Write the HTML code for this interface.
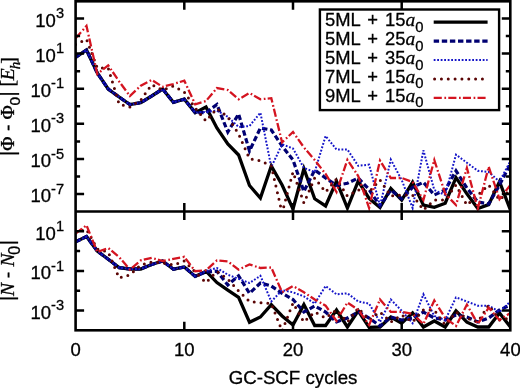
<!DOCTYPE html><html><head><meta charset="utf-8"><style>html,body{margin:0;padding:0;background:#fff;}svg{display:block;}text{font-family:"Liberation Sans",sans-serif;fill:#000;stroke:#000;stroke-width:0.3px;}.sr{font-family:"Liberation Serif",serif;}</style></head><body>
<svg width="520" height="388" viewBox="0 0 520 388">
<defs><clipPath id="c1"><rect x="75.6" y="1.3" width="434.7" height="210.2"/></clipPath><clipPath id="c2"><rect x="75.6" y="211.5" width="434.7" height="118.8"/></clipPath></defs>
<g clip-path="url(#c1)" fill="none" stroke-linejoin="miter">
<polyline points="75.6,57.3 86.5,50.0 97.3,73.0 108.2,89.0 119.1,97.0 129.9,104.6 140.8,102.6 151.7,96.0 162.6,89.0 173.4,102.3 184.3,99.2 195.2,112.6 206.0,107.0 216.9,128.0 227.8,144.0 238.6,155.0 249.5,185.5 260.4,198.0 271.3,166.0 282.1,185.0 293.0,209.0 303.9,168.7 314.7,198.8 325.6,206.0 336.5,181.2 347.4,208.0 358.2,181.2 369.1,198.5 380.0,207.5 390.8,188.5 401.7,200.0 412.6,182.3 423.4,205.0 434.3,207.3 445.2,203.2 456.0,177.6 466.9,193.8 477.8,208.6 488.7,204.6 499.5,181.6 510.4,210.0" stroke="#000" stroke-width="3.3"/>
<polyline points="75.6,57.3 86.5,50.0 97.3,73.0 108.2,89.0 119.1,97.0 129.9,104.6 140.8,102.6 151.7,96.0 162.6,89.0 173.4,102.3 184.3,99.2 195.2,112.6 206.0,112.6 216.9,104.5 227.8,132.0 238.6,114.0 249.5,151.0 260.4,128.0 271.3,130.0 282.1,146.0 293.0,160.0 303.9,191.5 314.7,170.0 325.6,178.0 336.5,185.4 347.4,183.3 358.2,178.0 369.1,189.5 380.0,206.0 390.8,190.0 401.7,198.8 412.6,187.4 423.4,182.3 434.3,195.0 445.2,190.0 456.0,170.8 466.9,188.0 477.8,202.0 488.7,204.0 499.5,185.0 510.4,164.0" stroke="#000072" stroke-width="3.2" stroke-dasharray="5.4 2.7"/>
<polyline points="75.6,57.3 86.5,50.0 97.3,73.0 108.2,89.0 119.1,97.0 129.9,104.6 140.8,102.6 151.7,96.0 162.6,89.0 173.4,102.3 184.3,99.2 195.2,112.6 206.0,112.0 216.9,110.6 227.8,116.8 238.6,127.0 249.5,126.0 260.4,112.7 271.3,167.0 282.1,144.3 293.0,148.5 303.9,168.0 314.7,172.0 325.6,136.0 336.5,149.5 347.4,149.5 358.2,165.8 369.1,164.7 380.0,206.0 390.8,159.6 401.7,180.0 412.6,208.0 423.4,150.3 434.3,190.0 445.2,195.0 456.0,154.6 466.9,162.7 477.8,170.8 488.7,172.0 499.5,181.6 510.4,161.0" stroke="#1515c8" stroke-width="2" stroke-dasharray="1.8 1.7"/>
<polyline points="75.6,44.5 86.5,39.3 97.3,68.0 108.2,68.0 119.1,104.0 129.9,107.0 140.8,100.0 151.7,84.7 162.6,90.0 173.4,86.0 184.3,92.0 195.2,108.0 206.0,121.0 216.9,108.5 227.8,117.0 238.6,134.0 249.5,158.7 260.4,160.8 271.3,166.0 282.1,213.0 293.0,172.0 303.9,203.0 314.7,178.0 325.6,192.0 336.5,179.0 347.4,196.0 358.2,190.0 369.1,192.0 380.0,180.0 390.8,196.0 401.7,195.0 412.6,195.0 423.4,210.0 434.3,200.0 445.2,200.0 456.0,185.0 466.9,205.0 477.8,195.0 488.7,185.0 499.5,200.0 510.4,190.0" stroke="#5a0505" stroke-width="3" stroke-linecap="round" stroke-dasharray="0 6.83"/>
<polyline points="75.6,38.2 86.5,26.0 97.3,74.0 108.2,65.3 119.1,81.4 129.9,96.0 140.8,85.7 151.7,80.0 162.6,86.8 173.4,84.0 184.3,80.6 195.2,104.3 206.0,101.0 216.9,88.0 227.8,90.0 238.6,99.3 249.5,93.0 260.4,99.3 271.3,98.2 282.1,142.4 293.0,132.0 303.9,147.4 314.7,160.0 325.6,174.0 336.5,192.0 347.4,159.8 358.2,176.0 369.1,208.0 380.0,160.6 390.8,178.0 401.7,178.0 412.6,182.0 423.4,200.0 434.3,160.0 445.2,193.8 456.0,205.0 466.9,168.0 477.8,208.6 488.7,166.8 499.5,199.0 510.4,185.0" stroke="#d41420" stroke-width="2.3" stroke-dasharray="8.1 2.6 1.7 2.2"/>
</g>
<g clip-path="url(#c2)" fill="none" stroke-linejoin="miter">
<polyline points="75.6,241.8 86.5,236.6 97.3,251.0 108.2,259.3 119.1,267.6 129.9,269.0 140.8,269.0 151.7,264.5 162.6,261.0 173.4,269.2 184.3,267.0 195.2,276.4 206.0,271.2 216.9,282.6 227.8,290.2 238.6,297.4 249.5,322.2 260.4,317.0 271.3,304.6 282.1,316.0 293.0,325.0 303.9,304.6 314.7,325.5 325.6,325.5 336.5,310.0 347.4,327.0 358.2,310.8 369.1,327.3 380.0,327.0 390.8,317.0 401.7,323.2 412.6,312.9 423.4,327.0 434.3,321.0 445.2,327.0 456.0,310.8 466.9,322.2 477.8,327.0 488.7,327.0 499.5,312.9 510.4,327.0" stroke="#000" stroke-width="3.3"/>
<polyline points="75.6,241.8 86.5,236.6 97.3,251.0 108.2,259.3 119.1,267.6 129.9,269.0 140.8,269.0 151.7,264.5 162.6,261.0 173.4,269.2 184.3,267.0 195.2,276.4 206.0,272.0 216.9,271.2 227.8,285.0 238.6,275.8 249.5,293.3 260.4,283.0 271.3,286.0 282.1,293.3 293.0,299.5 303.9,312.0 314.7,306.0 325.6,312.0 336.5,322.0 347.4,318.0 358.2,312.0 369.1,318.0 380.0,326.0 390.8,317.0 401.7,320.0 412.6,318.0 423.4,312.0 434.3,318.0 445.2,320.0 456.0,315.0 466.9,317.0 477.8,322.0 488.7,318.0 499.5,310.0 510.4,305.0" stroke="#000072" stroke-width="3.2" stroke-dasharray="5.4 2.7"/>
<polyline points="75.6,241.8 86.5,236.6 97.3,251.0 108.2,259.3 119.1,267.6 129.9,269.0 140.8,269.0 151.7,264.5 162.6,261.0 173.4,269.2 184.3,267.0 195.2,276.4 206.0,271.0 216.9,268.0 227.8,274.7 238.6,278.9 249.5,283.0 260.4,275.8 271.3,301.5 282.1,290.2 293.0,292.3 303.9,296.4 314.7,303.6 325.6,286.0 336.5,294.3 347.4,293.3 358.2,301.5 369.1,303.6 380.0,322.0 390.8,299.5 401.7,310.8 412.6,323.2 423.4,294.3 434.3,316.0 445.2,320.0 456.0,297.4 466.9,301.5 477.8,305.7 488.7,305.7 499.5,311.9 510.4,301.5" stroke="#1515c8" stroke-width="2" stroke-dasharray="1.8 1.7"/>
<polyline points="75.6,231.5 86.5,229.4 97.3,249.0 108.2,252.0 119.1,277.9 129.9,274.8 140.8,265.0 151.7,262.0 162.6,263.0 173.4,265.0 184.3,261.0 195.2,272.0 206.0,282.6 216.9,271.5 227.8,279.0 238.6,291.0 249.5,301.5 260.4,302.6 271.3,303.6 282.1,331.0 293.0,303.0 303.9,322.0 314.7,312.0 325.6,318.0 336.5,310.0 347.4,322.0 358.2,308.0 369.1,320.0 380.0,312.0 390.8,322.0 401.7,315.0 412.6,322.0 423.4,310.0 434.3,310.0 445.2,325.0 456.0,312.0 466.9,318.0 477.8,322.0 488.7,305.0 499.5,320.0 510.4,318.0" stroke="#5a0505" stroke-width="3" stroke-linecap="round" stroke-dasharray="0 6.83"/>
<polyline points="75.6,233.6 86.5,225.3 97.3,252.0 108.2,248.0 119.1,257.0 129.9,269.6 140.8,260.4 151.7,257.8 162.6,261.0 173.4,258.9 184.3,256.8 195.2,271.2 206.0,270.2 216.9,260.5 227.8,261.3 238.6,269.6 249.5,264.4 260.4,268.0 271.3,267.5 282.1,292.3 293.0,286.0 303.9,292.3 314.7,299.5 325.6,305.7 336.5,321.0 347.4,302.6 358.2,309.8 369.1,325.0 380.0,299.5 390.8,311.9 401.7,311.9 412.6,314.0 423.4,324.0 434.3,300.5 445.2,318.0 456.0,326.0 466.9,304.6 477.8,324.0 488.7,307.7 499.5,320.0 510.4,313.0" stroke="#d41420" stroke-width="2.3" stroke-dasharray="8.1 2.6 1.7 2.2"/>
</g>
<path d="M75.6,18.5h8.5M510.3,18.5h-8.5M75.6,53.6h8.5M510.3,53.6h-8.5M75.6,88.7h8.5M510.3,88.7h-8.5M75.6,123.8h8.5M510.3,123.8h-8.5M75.6,158.9h8.5M510.3,158.9h-8.5M75.6,194.0h8.5M510.3,194.0h-8.5M75.6,36.0h4.5M510.3,36.0h-4.5M75.6,71.2h4.5M510.3,71.2h-4.5M75.6,106.2h4.5M510.3,106.2h-4.5M75.6,141.4h4.5M510.3,141.4h-4.5M75.6,176.4h4.5M510.3,176.4h-4.5M75.6,231.3h8.5M510.3,231.3h-8.5M75.6,270.9h8.5M510.3,270.9h-8.5M75.6,310.5h8.5M510.3,310.5h-8.5M75.6,251.1h4.5M510.3,251.1h-4.5M75.6,290.7h4.5M510.3,290.7h-4.5M184.3,1.3v8.5M184.3,211.5v-8.5M184.3,211.5v8.5M184.3,330.3v-8.5M293.0,1.3v8.5M293.0,211.5v-8.5M293.0,211.5v8.5M293.0,330.3v-8.5M401.7,1.3v8.5M401.7,211.5v-8.5M401.7,211.5v8.5M401.7,330.3v-8.5" stroke="#000" stroke-width="2.5" fill="none"/>
<rect x="75.6" y="1.3" width="434.7" height="329.0" fill="none" stroke="#000" stroke-width="2.6"/>
<path d="M75.6,211.5H510.3" stroke="#000" stroke-width="2.6"/>
<text x="64" y="26.9" text-anchor="end" font-size="18.5">10<tspan font-size="14.6" dy="-8.8">3</tspan></text>
<text x="64" y="62.0" text-anchor="end" font-size="18.5">10<tspan font-size="14.6" dy="-8.8">1</tspan></text>
<text x="64" y="97.1" text-anchor="end" font-size="18.5">10<tspan font-size="14.6" dy="-8.8">-1</tspan></text>
<text x="64" y="132.2" text-anchor="end" font-size="18.5">10<tspan font-size="14.6" dy="-8.8">-3</tspan></text>
<text x="64" y="167.3" text-anchor="end" font-size="18.5">10<tspan font-size="14.6" dy="-8.8">-5</tspan></text>
<text x="64" y="202.4" text-anchor="end" font-size="18.5">10<tspan font-size="14.6" dy="-8.8">-7</tspan></text>
<text x="64" y="239.7" text-anchor="end" font-size="18.5">10<tspan font-size="14.6" dy="-8.8">1</tspan></text>
<text x="64" y="279.3" text-anchor="end" font-size="18.5">10<tspan font-size="14.6" dy="-8.8">-1</tspan></text>
<text x="64" y="318.9" text-anchor="end" font-size="18.5">10<tspan font-size="14.6" dy="-8.8">-3</tspan></text>
<text x="75.6" y="355.6" text-anchor="middle" font-size="18.5">0</text>
<text x="184.3" y="355.6" text-anchor="middle" font-size="18.5">10</text>
<text x="293.0" y="355.6" text-anchor="middle" font-size="18.5">20</text>
<text x="401.7" y="355.6" text-anchor="middle" font-size="18.5">30</text>
<text x="510.4" y="355.6" text-anchor="middle" font-size="18.5">40</text>
<text x="293" y="384" text-anchor="middle" font-size="18.7">GC-SCF cycles</text>
<text transform="translate(14.60,153.30) rotate(-90)" text-anchor="middle" font-size="20">|</text>
<text transform="translate(14.40,143.60) rotate(-90)" text-anchor="middle" font-size="19.5" class="sr">Φ</text>
<text transform="translate(14.40,127.80) rotate(-90)" text-anchor="middle" font-size="19">-</text>
<text transform="translate(14.40,112.35) rotate(-90)" text-anchor="middle" font-size="19.5" class="sr">Φ</text>
<text transform="translate(20.20,101.10) rotate(-90)" text-anchor="middle" font-size="15.5">0</text>
<text transform="translate(14.60,94.00) rotate(-90)" text-anchor="middle" font-size="20">|</text>
<text transform="translate(14.20,83.20) rotate(-90)" text-anchor="middle" font-size="20" class="sr">[</text>
<text transform="translate(14.20,74.40) rotate(-90)" text-anchor="middle" font-size="19.5" class="sr" font-style="italic">E</text>
<text transform="translate(19.60,65.60) rotate(-90)" text-anchor="middle" font-size="15" class="sr" font-style="italic">h</text>
<text transform="translate(14.60,60.40) rotate(-90)" text-anchor="middle" font-size="20" class="sr">]</text>
<text transform="translate(14.40,298.50) rotate(-90)" text-anchor="middle" font-size="20">|</text>
<text transform="translate(14.00,289.50) rotate(-90)" text-anchor="middle" font-size="19.5" class="sr" font-style="italic">N</text>
<text transform="translate(14.20,275.00) rotate(-90)" text-anchor="middle" font-size="19">-</text>
<text transform="translate(14.00,260.00) rotate(-90)" text-anchor="middle" font-size="19.5" class="sr" font-style="italic">N</text>
<text transform="translate(20.00,250.20) rotate(-90)" text-anchor="middle" font-size="16">0</text>
<text transform="translate(14.40,242.70) rotate(-90)" text-anchor="middle" font-size="20">|</text>
<rect x="319.9" y="9.5" width="179.2" height="100.6" fill="#fff" stroke="#000" stroke-width="2.4"/>
<text x="325" y="26.2" font-size="18.4" word-spacing="2.0">5ML + 15<tspan class="sr" font-style="italic" font-size="19.5">a</tspan><tspan font-size="14.8" dy="5.6">0</tspan></text>
<path d="M433.7,22.2H487.6" fill="none" stroke="#000" stroke-width="3.3"/>
<text x="325" y="45.0" font-size="18.4" word-spacing="2.0">5ML + 25<tspan class="sr" font-style="italic" font-size="19.5">a</tspan><tspan font-size="14.8" dy="5.6">0</tspan></text>
<path d="M433.7,41.1H487.6" fill="none" stroke="#000072" stroke-width="3.2" stroke-dasharray="5.4 2.7"/>
<text x="325" y="63.9" font-size="18.4" word-spacing="2.0">5ML + 35<tspan class="sr" font-style="italic" font-size="19.5">a</tspan><tspan font-size="14.8" dy="5.6">0</tspan></text>
<path d="M433.7,60.0H487.6" fill="none" stroke="#1515c8" stroke-width="2" stroke-dasharray="1.8 1.7"/>
<text x="325" y="82.8" font-size="18.4" word-spacing="2.0">7ML + 15<tspan class="sr" font-style="italic" font-size="19.5">a</tspan><tspan font-size="14.8" dy="5.6">0</tspan></text>
<path d="M434.6,78.9H487.6" fill="none" stroke="#5a0505" stroke-width="3" stroke-linecap="round" stroke-dasharray="0 6.83"/>
<text x="325" y="101.6" font-size="18.4" word-spacing="2.0">9ML + 15<tspan class="sr" font-style="italic" font-size="19.5">a</tspan><tspan font-size="14.8" dy="5.6">0</tspan></text>
<path d="M433.7,97.8H487.6" fill="none" stroke="#d41420" stroke-width="2.3" stroke-dasharray="8.1 2.6 1.7 2.2"/>
</svg></body></html>
